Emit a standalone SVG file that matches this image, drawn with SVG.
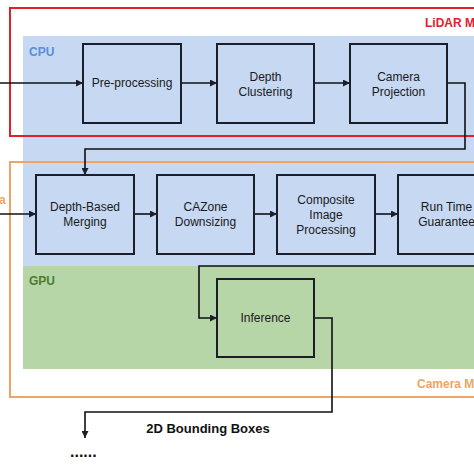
<svg xmlns="http://www.w3.org/2000/svg" width="474" height="474" viewBox="0 0 474 474">
<defs>
<style>
.box{fill:none;stroke:#1c1f2a;stroke-width:2}
.t{font-family:"Liberation Sans",Arial,sans-serif;font-size:12px;fill:#1a1a1a;text-anchor:middle}
.lbl{font-family:"Liberation Sans",Arial,sans-serif;font-size:12px;font-weight:bold}
.ln{fill:none;stroke:#111;stroke-width:1.6}
</style>
<marker id="ah" viewBox="0 0 10 10" refX="10" refY="5" markerWidth="8" markerHeight="7" markerUnits="userSpaceOnUse" orient="auto">
<path d="M0,0 L10,5 L0,10 Z" fill="#1c1f2a"/>
</marker>
</defs>
<rect width="474" height="474" fill="#fff"/>
<g id="regions">
<rect x="23" y="36" width="460" height="230" fill="#c6d8f2"/>
<rect x="23" y="266" width="460" height="103" fill="#b7d6a8"/>
<rect x="10" y="8" width="480" height="128" fill="none" stroke="#e3202a" stroke-width="2"/>
<rect x="10" y="162" width="480" height="235" fill="none" stroke="#eea563" stroke-width="2"/>
<text class="lbl" x="29" y="56" fill="#5a8fd8">CPU</text>
<text class="lbl" x="29" y="285" fill="#4c7d2c">GPU</text>
<text class="lbl" x="425" y="27" fill="#e3202a">LiDAR M</text>
<text class="lbl" x="417" y="388" fill="#eea563">Camera M</text>
<text class="lbl" x="-1" y="204" fill="#eea563">a</text>
</g>
<g id="connectors">
<path class="ln" d="M0,83 H83" marker-end="url(#ah)"/>
<path class="ln" d="M181,83 H217" marker-end="url(#ah)"/>
<path class="ln" d="M314,83 H350" marker-end="url(#ah)"/>
<path class="ln" d="M447,83 H465 V149 H85 V175" marker-end="url(#ah)"/>
<path class="ln" d="M0,214 H36" marker-end="url(#ah)"/>
<path class="ln" d="M134,214 H157" marker-end="url(#ah)"/>
<path class="ln" d="M254,214 H277" marker-end="url(#ah)"/>
<path class="ln" d="M375,214 H398" marker-end="url(#ah)"/>
<path class="ln" d="M474,266 H199 V318 H217" marker-end="url(#ah)"/>
<path class="ln" d="M314,318 H332 V412 H85 V438" marker-end="url(#ah)"/>
</g>
<g id="preprocessing">
<rect class="box" x="83" y="44" width="98" height="79"/>
<text class="t" x="132" y="87">Pre-processing</text>
</g>
<g id="depth-clustering">
<rect class="box" x="217" y="44" width="97" height="79"/>
<text class="t" x="265.5" y="81">Depth</text>
<text class="t" x="265.5" y="96">Clustering</text>
</g>
<g id="camera-projection">
<rect class="box" x="350" y="44" width="97" height="79"/>
<text class="t" x="398.5" y="81">Camera</text>
<text class="t" x="398.5" y="96">Projection</text>
</g>
<g id="depth-merging">
<rect class="box" x="36" y="175" width="98" height="79"/>
<text class="t" x="85" y="211">Depth-Based</text>
<text class="t" x="85" y="226">Merging</text>
</g>
<g id="cazone">
<rect class="box" x="157" y="175" width="97" height="79"/>
<text class="t" x="205.5" y="211">CAZone</text>
<text class="t" x="205.5" y="226">Downsizing</text>
</g>
<g id="composite">
<rect class="box" x="277" y="175" width="98" height="79"/>
<text class="t" x="326" y="204">Composite</text>
<text class="t" x="326" y="219">Image</text>
<text class="t" x="326" y="234">Processing</text>
</g>
<g id="runtime">
<rect class="box" x="398" y="175" width="97" height="79"/>
<text class="t" x="446.5" y="211">Run Time</text>
<text class="t" x="446.5" y="226">Guarantee</text>
</g>
<g id="inference">
<rect class="box" x="217" y="279" width="97" height="78"/>
<text class="t" x="265.5" y="322">Inference</text>
</g>
<g id="output">
<text class="lbl" x="208" y="433" text-anchor="middle" font-size="13" fill="#111" style="font-size:13px">2D Bounding Boxes</text>
<text class="lbl" x="70" y="457" fill="#111" style="font-size:16px">......</text>
</g>
</svg>
